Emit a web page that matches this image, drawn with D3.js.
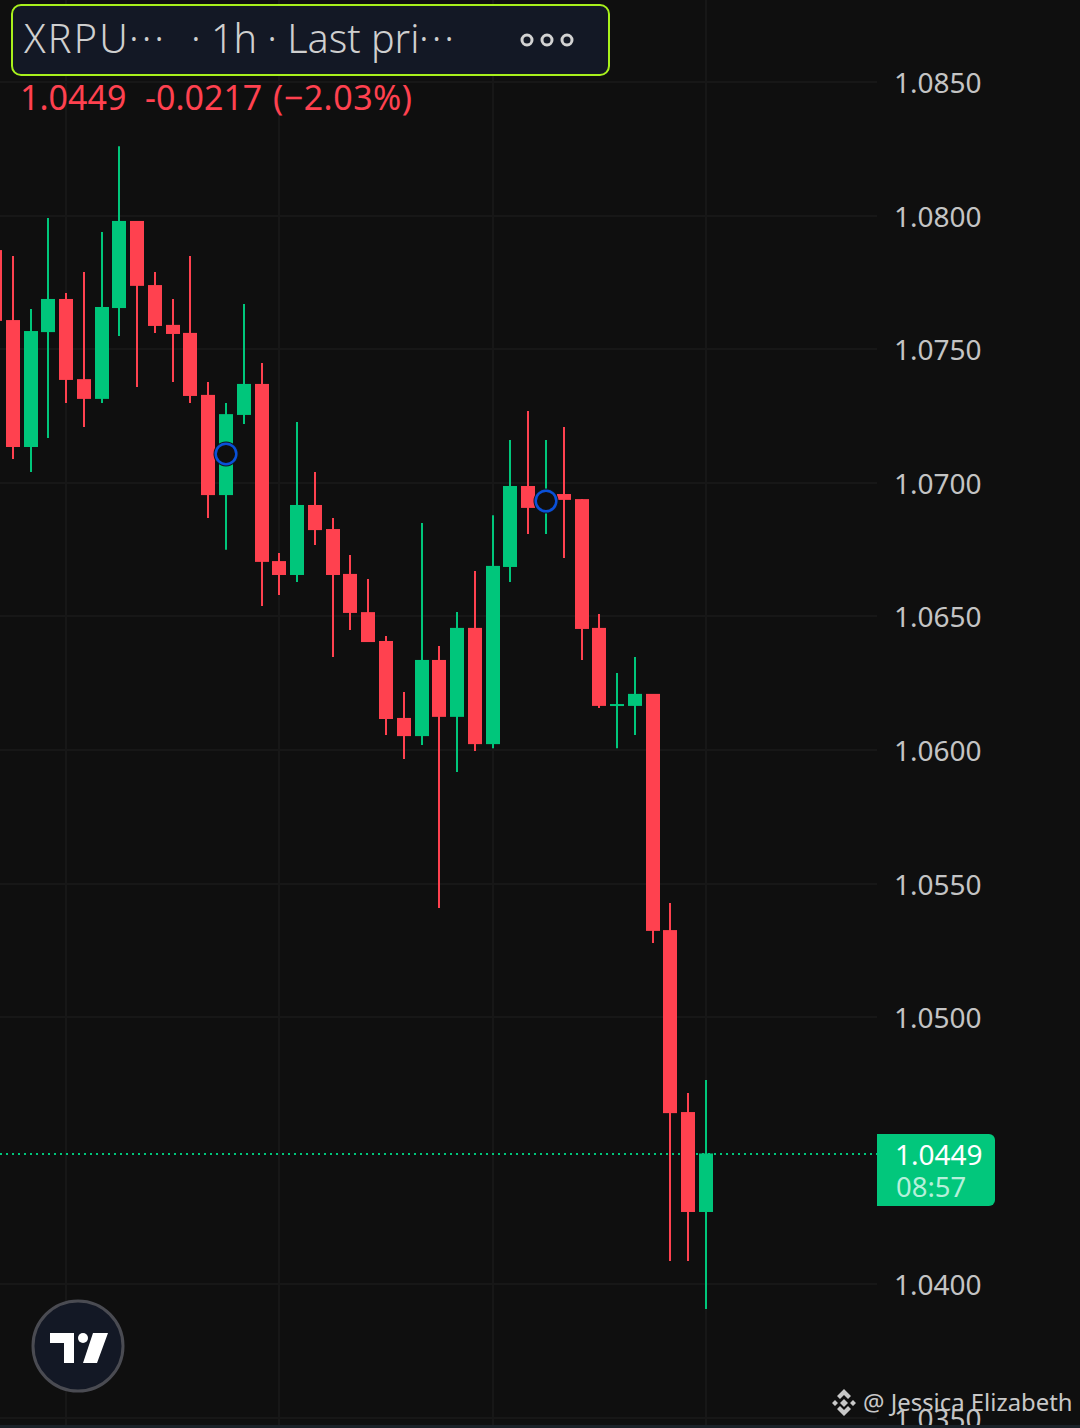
<!DOCTYPE html>
<html>
<head>
<meta charset="utf-8">
<script src="https://cdn.jsdelivr.net/npm/d3@7"></script>
<style>
  html, body { margin: 0; padding: 0; background: #0f0f0f; }
  svg { display: block; font-family: "Noto Sans", sans-serif; }
</style>
</head>
<body>
<div id="chart"></div>
<script>
// Candles, oldest first. The first one is cut off by the left edge.
var opens = [1.07871, 1.07609, 1.07134, 1.07564, 1.07688, 1.07388, 1.07314, 1.07654, 1.0798, 1.0774, 1.07591,
    1.07561, 1.07329, 1.06954, 1.07254, 1.0737, 1.06707, 1.06655, 1.06917, 1.06827, 1.06659, 1.06516, 1.06408,
    1.0612, 1.06052, 1.06337, 1.06124, 1.06457, 1.06022, 1.06685, 1.06988, 1.06906, 1.06958, 1.06939, 1.06457,
    1.06165, 1.06165, 1.0621, 1.05326, 1.04645, 1.04271];
var highs = [1.07871, 1.07849, 1.0765, 1.07991, 1.0771, 1.07789, 1.07939, 1.0826, 1.0798, 1.07789, 1.07688,
    1.07849, 1.07377, 1.07299, 1.07669, 1.07448, 1.06737, 1.07228, 1.0704, 1.06868, 1.0673, 1.0664, 1.06427,
    1.06217, 1.0685, 1.06389, 1.06516, 1.0667, 1.06879, 1.0716, 1.07269, 1.0716, 1.07209, 1.06939, 1.06509,
    1.06288, 1.06348, 1.0621, 1.05427, 1.04716, 1.04765];
var lows = [1.07606, 1.07089, 1.0704, 1.07168, 1.07299, 1.07209, 1.07299, 1.07549, 1.07359, 1.07561, 1.07377,
    1.07299, 1.06868, 1.06749, 1.0722, 1.06539, 1.0658, 1.06629, 1.06767, 1.06348, 1.06449, 1.06404, 1.06056,
    1.05966, 1.06019, 1.05409, 1.05918, 1.05996, 1.06007, 1.06629, 1.06808, 1.06808, 1.06719, 1.06337, 1.06157,
    1.06007, 1.06056, 1.05278, 1.04088, 1.04088, 1.03908];
var closes = [1.07606, 1.07134, 1.07568, 1.07688, 1.07385, 1.07314, 1.07658, 1.0798, 1.07737, 1.07587, 1.07557,
    1.07325, 1.06954, 1.07257, 1.0737, 1.06704, 1.06655, 1.06917, 1.06823, 1.06655, 1.06513, 1.06404, 1.06116,
    1.06052, 1.06337, 1.06124, 1.06457, 1.06022, 1.06689, 1.06988, 1.06906, 1.06966, 1.06936, 1.06453, 1.06165,
    1.06172, 1.0621, 1.05323, 1.04641, 1.04271, 1.0449];

var priceTicks = [1.085, 1.08, 1.075, 1.07, 1.065, 1.06, 1.055, 1.05, 1.04, 1.035];
var timeTicks = [4, 16, 28, 40];
var markerIndex = [13, 31];
var markerPrice = [1.07108, 1.06932];
var lastPrice = 1.0449;

var width = 1080, height = 1428;
var plotRight = 877;
var bg = "#0f0f0f", up = "#00c67b", down = "#ff414f", grid = "#171717", label = "#c4c4c4";

var svg = d3.select("#chart").append("svg")
    .attr("width", width)
    .attr("height", height);

svg.append("rect").attr("width", width).attr("height", height).attr("fill", bg);

// Create scales.
var x = d3.scaleLinear().domain([0, 40]).range([-5.05, 706]);
var y = d3.scaleLinear().domain([1.085, 1.04]).range([82, 1284.4]);

// Grid.
svg.append("g").selectAll("line")
    .data(priceTicks)
    .enter().append("line")
    .attr("x1", 0)
    .attr("x2", plotRight)
    .attr("y1", d => Math.round(y(d)))
    .attr("y2", d => Math.round(y(d)))
    .attr("stroke", grid)
    .attr("stroke-width", 2);

svg.append("g").selectAll("line")
    .data(timeTicks)
    .enter().append("line")
    .attr("x1", d => Math.round(x(d)))
    .attr("x2", d => Math.round(x(d)))
    .attr("y1", 0)
    .attr("y2", height)
    .attr("stroke", grid)
    .attr("stroke-width", 2);

// Price axis.
var rightAxis = d3.axisRight(y)
    .tickValues(priceTicks)
    .tickSize(0)
    .tickPadding(0)
    .tickFormat(d3.format(".4f"));

var axisGroup = svg.append("g")
    .attr("transform", `translate(894, 1.6)`)
    .call(rightAxis);
axisGroup.select(".domain").remove();
axisGroup.selectAll("text")
    .attr("fill", label)
    .style("font-size", "28px")
    .style("font-family", '"Noto Sans", sans-serif');

// Last price line.
svg.append("line")
    .attr("x1", 0)
    .attr("x2", plotRight)
    .attr("y1", Math.ceil(y(lastPrice)))
    .attr("y2", Math.ceil(y(lastPrice)))
    .attr("stroke", up)
    .attr("stroke-width", 2)
    .attr("stroke-dasharray", "2 4");

// Candles.
var idx = d3.range(opens.length);
var color = i => closes[i] >= opens[i] ? up : down;

svg.append("g").selectAll("line")
    .data(idx)
    .enter().append("line")
    .attr("x1", i => Math.round(x(i)))
    .attr("x2", i => Math.round(x(i)))
    .attr("y1", i => y(highs[i]))
    .attr("y2", i => y(lows[i]))
    .attr("stroke", color)
    .attr("stroke-width", 2);

svg.append("g").selectAll("rect")
    .data(idx)
    .enter().append("rect")
    .attr("x", i => Math.round(x(i)) - 7)
    .attr("y", i => y(Math.max(opens[i], closes[i])))
    .attr("width", 14)
    .attr("height", i => Math.max(2, Math.abs(y(opens[i]) - y(closes[i]))))
    .attr("fill", color);

// Markers, with the dark halo round them.
svg.append("g").selectAll("circle")
    .data(markerIndex)
    .enter().append("circle")
    .attr("cx", d => Math.round(x(d)))
    .attr("cy", (d, i) => y(markerPrice[i]))
    .attr("r", 12.5)
    .attr("fill", "#10151c");

svg.append("g").selectAll("circle")
    .data(markerIndex)
    .enter().append("circle")
    .attr("cx", d => Math.round(x(d)))
    .attr("cy", (d, i) => y(markerPrice[i]))
    .attr("r", 10.3)
    .attr("fill", bg)
    .attr("stroke", "#0a50d8")
    .attr("stroke-width", 2.5);

// Price tag.
svg.append("path")
    .attr("d", "M877 1134H989a6 6 0 0 1 6 6V1200a6 6 0 0 1 -6 6H877Z")
    .attr("fill", "#02c77c");
svg.append("text").attr("x", 895).attr("y", 1165).attr("fill", "#fff")
    .style("font-size", "28px").text("1.0449");
svg.append("text").attr("x", 896).attr("y", 1197).attr("fill", "#b5f0da")
    .style("font-size", "27.5px").text("08:57");

// Header box.
svg.append("rect")
    .attr("x", 12).attr("y", 5)
    .attr("width", 597).attr("height", 70)
    .attr("rx", 9)
    .attr("fill", "#131825")
    .attr("stroke", "#a8f01c")
    .attr("stroke-width", 2);

var head = svg.append("g")
    .attr("fill", "#cfcfcf")
    .style("font-size", "39.5px")
    .style("font-weight", 300);
head.append("text").attr("x", 24).attr("y", 53).style("letter-spacing", "2.2px").text("XRPU");
head.append("text").attr("x", 129).attr("y", 53).style("letter-spacing", "3px").text("···");
head.append("text").attr("x", 191).attr("y", 53).text("· 1h · Last pri");
head.append("text").attr("x", 419).attr("y", 53).style("letter-spacing", "3px").text("···");

svg.append("g").selectAll("circle")
    .data([527, 547, 567])
    .enter().append("circle")
    .attr("cx", d => d)
    .attr("cy", 40)
    .attr("r", 5)
    .attr("fill", "none")
    .attr("stroke", "#d2d2d2")
    .attr("stroke-width", 3);

var legend = svg.append("g").attr("fill", down).style("font-size", "34px");
legend.append("text").attr("x", 20).attr("y", 110).text("1.0449");
legend.append("text").attr("x", 145).attr("y", 110).text("-0.0217");
legend.append("text").attr("x", 273).attr("y", 110).style("letter-spacing", "0.5px").text("(\u22122.03%)");

// TradingView logo.
svg.append("circle")
    .attr("cx", 78).attr("cy", 1346).attr("r", 45)
    .attr("fill", "#131825")
    .attr("stroke", "#4a4b52")
    .attr("stroke-width", 3);
svg.append("path")
    .attr("d", "M50 1333H74V1363H64V1343H50Z M93 1333H108L97 1363H83Z")
    .attr("fill", "#fff");
svg.append("circle").attr("cx", 83).attr("cy", 1338).attr("r", 5).attr("fill", "#fff");

// Watermark.
var mark = svg.append("g").attr("fill", "#c8c8c8");
mark.append("path")
    .attr("d", "M844 1389l7 7-3 3-4-4-4 4-3-3Z M844 1416l7-7-3-3-4 4-4-4-3 3Z M832 1403l3-3 3 3-3 3Z M856 1403l-3-3-3 3 3 3Z M844 1399l4 4-4 4-4-4Z");
mark.append("text").attr("x", 863).attr("y", 1411)
    .style("font-size", "23.9px").text("@ Jessica Elizabeth");

// Strip along the bottom edge.
svg.append("rect").attr("x", 0).attr("y", 1425).attr("width", width).attr("height", 3).attr("fill", "#1a2128");
</script>
</body>
</html>
